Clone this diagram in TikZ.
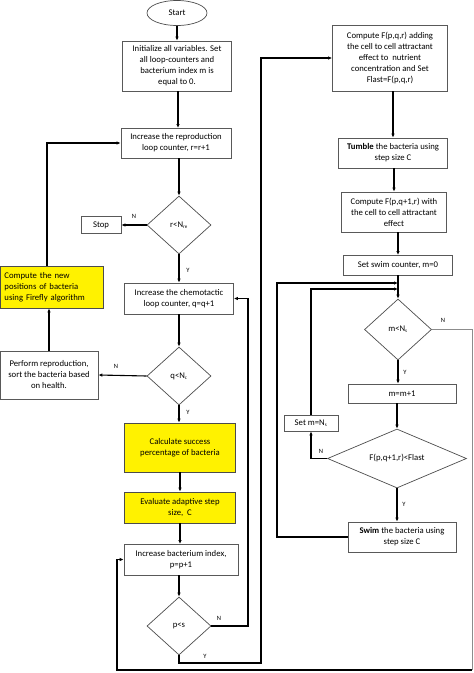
\documentclass[tikz,border=0pt]{standalone}
\usepackage{fontspec}
\setmainfont{Carlito}
\usetikzlibrary{arrows.meta,shapes.geometric,calc}
\begin{document}
\begin{tikzpicture}[x=1pt,y=-1pt,
  every node/.style={font=\fontsize{8.7}{11}\selectfont, inner sep=1pt},
  box/.style={draw=black!65, line width=0.7pt, fill=white, align=center, minimum width=#1},
  box/.default=110pt,
  ybox/.style={box=#1, fill=yellow, draw=black!70},
  ybox/.default=110pt,
  dia/.style={draw=black!70, line width=0.7pt, diamond, aspect=1.1, inner sep=0pt, align=center},
  arr/.style={line width=1.1pt, -{Latex[length=4pt,width=3.5pt]}},
  ln/.style={line width=1.1pt},
  glab/.style={font=\fontsize{6.5}{8}\selectfont}
]
\useasboundingbox (0,0) rectangle (474,673);
% left column
\node[draw=black!70, line width=0.7pt, ellipse, minimum width=60pt, minimum height=25pt, inner sep=0pt] (start) at (177,13) {Start};
\node[box=109pt, minimum height=50pt] (init) at (177,66) {Initialize all variables. Set\\all loop-counters and\\bacterium index m is\\equal to 0.};
\node[box=110pt, minimum height=30pt] (repro) at (176,143) {Increase the reproduction\\loop counter, r=r+1};
\node[dia, minimum width=64pt, minimum height=58pt] (d1) at (179,225) {r<N\textsubscript{\fontsize{5}{5}\selectfont re}};
\node[box=40pt, minimum height=17pt] (stop) at (101,225) {Stop};
\node[box=109pt, minimum height=31pt] (chemo) at (179,298.5) {Increase the chemotactic\\loop counter, q=q+1};
\node[ybox=103pt, minimum height=42pt, align=left, text width=95pt] (firefly) at (52,287) {Compute the new\\positions of bacteria\\using Firefly algorithm};
\node[dia, minimum width=64pt, minimum height=58pt] (d2) at (179,376) {q<N\textsubscript{\fontsize{5}{5}\selectfont c}};
\node[box=98pt, minimum height=48pt] (perform) at (49,375) {Perform reproduction,\\sort the bacteria based\\on health.};
\node[ybox=111pt, minimum height=49pt] (success) at (180,447.5) {Calculate success\\percentage of bacteria};
\node[ybox=111pt, minimum height=31pt] (adapt) at (180,507.5) {Evaluate adaptive step\\size,~~C};
\node[box=114pt, minimum height=31pt] (bindex) at (181,559.5) {Increase bacterium index,\\p=p+1};
\node[dia, minimum width=64pt, minimum height=58pt] (d3) at (179,626) {p<s};
% right column
\node[box=115pt, minimum height=66pt] (fcomp) at (390,58) {Compute F(p,q,r) adding\\the cell to cell attractant\\effect to~ nutrient\\concentration and Set\\Flast=F(p,q,r)};
\node[box=109pt, minimum height=30pt] (tumble) at (393,153) {\textbf{Tumble} the bacteria using\\step size C};
\node[box=105pt, minimum height=40pt] (fq1) at (394,212) {Compute F(p,q+1,r) with\\the cell to cell attractant\\effect};
\node[box=109pt, minimum height=20pt] (swimset) at (398,265) {Set swim counter, m=0};
\node[dia, minimum width=67pt, minimum height=61pt] (d4) at (398,329.5) {m<N\textsubscript{\fontsize{5}{5}\selectfont s}};
\node[box=108pt, minimum height=19pt] (mm1) at (402,393.5) {m=m+1};
\node[box=54pt, minimum height=16pt] (setm) at (311,423) {Set m=N\textsubscript{\fontsize{5}{5}\selectfont s}};
\node[dia, minimum width=139pt, minimum height=59pt, aspect=2.3] (d5) at (397,458.5) {F(p,q+1,r)<Flast};
\node[box=108pt, minimum height=30pt] (swim) at (402,537) {\textbf{Swim} the bacteria using\\step size C};
% junction coordinates
\coordinate (j1) at (398,283);
\coordinate (j2) at (398,289);
\coordinate (c1) at (261,663);
\coordinate (c2) at (472,670);
\coordinate (c3) at (117,670);
% left column connectors
\draw[arr] (start.south -| init.north) -- (init.north);
\draw[arr] (init.south -| 178,0) -- (178,128);
\draw[arr] (repro.south -| d1.north) -- (d1.north);
\draw[arr] (d1.west) -- (stop.east);
\node[glab] (n1) at (134,216) {N};
\draw[arr] (d1.south) -- (d1.south |- chemo.north);
\node[glab] (y1) at (188,270) {Y};
\draw[arr] (chemo.south -| d2.north) -- (d2.north);
\draw[arr] (d2.west) -- (perform.east);
\node[glab] (n2) at (116,366) {N};
\draw[arr] (perform.north) -- (perform.north |- firefly.south);
\draw[arr] (firefly.north -| 47,0) |- (repro.west);
\draw[arr] (d2.south) -- (d2.south |- success.north);
\node[glab] (y2) at (188,412) {Y};
\draw[arr] (success.south -| adapt.north) -- (adapt.north);
\draw[arr] (adapt.south -| 180,0) -- (180,544);
\draw[arr] (bindex.south -| d3.north) -- (d3.north);
\draw[arr] (d3.east) -- (248,626) |- (chemo.east);
\node[glab] (n3) at (219,618) {N};
\draw[arr] (d3.south) |- (c1) |- (fcomp.west);
\node[glab] (y3) at (205,656) {Y};
% right column connectors
\draw[arr] (fcomp.south -| tumble.north) -- (tumble.north);
\draw[arr] (tumble.south -| fq1.north) -- (fq1.north);
\draw[arr] (fq1.south -| 398,0) -- (398,255);
\draw[arr] (swimset.south -| d4.north) -- (d4.north);
\draw[arr] (d4.south) -- (d4.south |- mm1.north);
\node[glab] (y4) at (405,372) {Y};
\draw[arr] (mm1.south -| d5.north) -- (d5.north);
\draw[arr] (d5.south) -- (d5.south |- swim.north);
\node[glab] (y5) at (404,504) {Y};
\draw[arr] (d5.west) -| (setm.south);
\node[glab] (n5) at (321,451) {N};
\draw[arr] (setm.north) |- (j2);
\draw[arr] (swim.west) -- (277,537) |- (j1);
\draw[line width=0.8pt, black!45] (d4.east) -| (c2);
\node[glab] (n4) at (443,320) {N};
\draw[arr] (c2) -- (c3) |- (bindex.west);
\end{tikzpicture}
\end{document}
